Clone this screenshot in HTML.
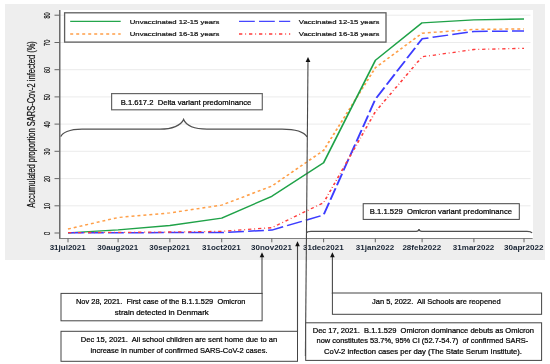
<!DOCTYPE html>
<html><head><meta charset="utf-8"><title>Figure</title>
<style>
html,body{margin:0;padding:0;background:#fff;}
body{width:550px;height:364px;overflow:hidden;}
svg{display:block;font-family:"Liberation Sans",Arial,sans-serif;}
svg text{white-space:pre;}
.ann text{font-size:7.6px;fill:#000;stroke:#000;stroke-width:0.22;}
.ann rect{fill:#fff;stroke:#444;stroke-width:1;}
.ln{fill:none;stroke:#505050;stroke-width:1.3;}
.ar{fill:none;stroke:#484848;stroke-width:1.1;}
</style></head><body>
<svg width="550" height="364" viewBox="0 0 550 364">
<rect x="0" y="0" width="550" height="364" fill="#fff"/>
<rect x="5" y="4" width="540" height="256" fill="#eeeeee"/>
<rect x="60" y="10" width="473" height="228.4" fill="#fff"/>
<g stroke="#ebebeb" stroke-width="1"><line x1="60" x2="530.5" y1="205.8" y2="205.8"/><line x1="60" x2="530.5" y1="178.6" y2="178.6"/><line x1="60" x2="530.5" y1="151.3" y2="151.3"/><line x1="60" x2="530.5" y1="124.1" y2="124.1"/><line x1="60" x2="530.5" y1="96.9" y2="96.9"/><line x1="60" x2="530.5" y1="69.7" y2="69.7"/><line x1="60" x2="530.5" y1="42.5" y2="42.5"/><line x1="60" x2="530.5" y1="15.2" y2="15.2"/></g>
<g stroke="#555" stroke-width="1.3">
<line x1="59.8" x2="59.8" y1="10" y2="239"/>
<line x1="59.2" x2="532.6" y1="238.5" y2="238.5" stroke="#808080" stroke-width="1.1"/>
</g>
<g stroke="#666" stroke-width="1"><line x1="54.5" x2="60" y1="233.0" y2="233.0"/><line x1="54.5" x2="60" y1="205.8" y2="205.8"/><line x1="54.5" x2="60" y1="178.6" y2="178.6"/><line x1="54.5" x2="60" y1="151.3" y2="151.3"/><line x1="54.5" x2="60" y1="124.1" y2="124.1"/><line x1="54.5" x2="60" y1="96.9" y2="96.9"/><line x1="54.5" x2="60" y1="69.7" y2="69.7"/><line x1="54.5" x2="60" y1="42.5" y2="42.5"/><line x1="54.5" x2="60" y1="15.2" y2="15.2"/><line x1="68" x2="68" y1="238.4" y2="242.3"/><line x1="118.1" x2="118.1" y1="238.4" y2="242.3"/><line x1="169.9" x2="169.9" y1="238.4" y2="242.3"/><line x1="221.7" x2="221.7" y1="238.4" y2="242.3"/><line x1="271.8" x2="271.8" y1="238.4" y2="242.3"/><line x1="323.6" x2="323.6" y1="238.4" y2="242.3"/><line x1="375.3" x2="375.3" y1="238.4" y2="242.3"/><line x1="422.1" x2="422.1" y1="238.4" y2="242.3"/><line x1="473.9" x2="473.9" y1="238.4" y2="242.3"/><line x1="524" x2="524" y1="238.4" y2="242.3"/></g>
<g font-size="6px" fill="#111" stroke="#111" stroke-width="0.15"><text transform="translate(50,233.3) rotate(-90) scale(1,1.45)" text-anchor="middle" textLength="3.2" lengthAdjust="spacingAndGlyphs">0</text><text transform="translate(50,206.1) rotate(-90) scale(1,1.45)" text-anchor="middle" textLength="6.2" lengthAdjust="spacingAndGlyphs">10</text><text transform="translate(50,178.9) rotate(-90) scale(1,1.45)" text-anchor="middle" textLength="6.2" lengthAdjust="spacingAndGlyphs">20</text><text transform="translate(50,151.6) rotate(-90) scale(1,1.45)" text-anchor="middle" textLength="6.2" lengthAdjust="spacingAndGlyphs">30</text><text transform="translate(50,124.4) rotate(-90) scale(1,1.45)" text-anchor="middle" textLength="6.2" lengthAdjust="spacingAndGlyphs">40</text><text transform="translate(50,97.2) rotate(-90) scale(1,1.45)" text-anchor="middle" textLength="6.2" lengthAdjust="spacingAndGlyphs">50</text><text transform="translate(50,70.0) rotate(-90) scale(1,1.45)" text-anchor="middle" textLength="6.2" lengthAdjust="spacingAndGlyphs">60</text><text transform="translate(50,42.8) rotate(-90) scale(1,1.45)" text-anchor="middle" textLength="6.2" lengthAdjust="spacingAndGlyphs">70</text><text transform="translate(50,15.5) rotate(-90) scale(1,1.45)" text-anchor="middle" textLength="6.2" lengthAdjust="spacingAndGlyphs">80</text></g>
<g font-size="6.9px" font-weight="bold" fill="#182434"><text x="67.7" y="249.8" text-anchor="middle" textLength="36.1" lengthAdjust="spacingAndGlyphs">31jul2021</text><text x="117.8" y="249.8" text-anchor="middle" textLength="41.0" lengthAdjust="spacingAndGlyphs">30aug2021</text><text x="169.6" y="249.8" text-anchor="middle" textLength="40.6" lengthAdjust="spacingAndGlyphs">30sep2021</text><text x="221.39999999999998" y="249.8" text-anchor="middle" textLength="38.8" lengthAdjust="spacingAndGlyphs">31oct2021</text><text x="271.5" y="249.8" text-anchor="middle" textLength="41.0" lengthAdjust="spacingAndGlyphs">30nov2021</text><text x="323.3" y="249.8" text-anchor="middle" textLength="40.6" lengthAdjust="spacingAndGlyphs">31dec2021</text><text x="375.0" y="249.8" text-anchor="middle" textLength="38.3" lengthAdjust="spacingAndGlyphs">31jan2022</text><text x="421.8" y="249.8" text-anchor="middle" textLength="38.8" lengthAdjust="spacingAndGlyphs">28feb2022</text><text x="473.59999999999997" y="249.8" text-anchor="middle" textLength="41.5" lengthAdjust="spacingAndGlyphs">31mar2022</text><text x="523.7" y="249.8" text-anchor="middle" textLength="39.6" lengthAdjust="spacingAndGlyphs">30apr2022</text></g>
<text transform="translate(34.9,124.4) rotate(-90) scale(1,1.45)" text-anchor="middle" font-size="7.5px" fill="#111" stroke="#111" stroke-width="0.15" textLength="166.5" lengthAdjust="spacingAndGlyphs">Accumulated proportion SARS-Cov-2 infected (%)</text>

<g fill="none" stroke-linejoin="round" transform="scale(1.3,1)">
<polyline points="52.31,229 90.85,217.5 130.69,212.9 170.54,205.1 209.08,186.1 248.92,150.4 288.69,67.8 324.69,33.2 364.54,29.4 403.08,28.9" stroke="#ff9f48" stroke-width="1.45" stroke-dasharray="2.3 2.3"/>
<polyline points="52.31,232.8 90.85,229.8 130.69,225.5 170.54,218.2 209.08,196.3 248.92,162.8 288.69,60.4 324.69,22.8 364.54,19.8 403.08,19.0" stroke="#1fa248" stroke-width="1.35"/>
<polyline points="52.31,232.8 90.85,232.7 130.69,232.6 170.54,232.5 209.08,230.1 248.92,215.0 288.69,99.4 324.69,38.8 364.54,31.5 403.08,31.0" stroke="#3c3cff" stroke-width="1.5" stroke-dasharray="12.15 3.25"/>
<polyline points="52.31,232.6 90.85,232.4 130.69,232.0 170.54,231.4 209.08,227.7 248.92,202.7 288.69,111.8 324.69,56.8 364.54,49.5 403.08,48.3" stroke="#ff3b3b" stroke-width="1.3" stroke-dasharray="2.55 2.2 0.7 2.25"/>
</g>

<rect x="64.6" y="12.8" width="321.4" height="29.3" fill="#fff" stroke="#5e5e5e" stroke-width="1.3"/>
<line x1="70.2" x2="120.7" y1="21.3" y2="21.3" stroke="#24a64c" stroke-width="1.3"/>
<line x1="70.2" x2="120.7" y1="34" y2="34" stroke="#ff9f48" stroke-width="1.5" stroke-dasharray="3 3"/>
<line x1="239" x2="290.2" y1="21.3" y2="21.3" stroke="#4646ff" stroke-width="1.3" stroke-dasharray="15.8 4.2"/>
<line x1="239" x2="290.2" y1="34" y2="34" stroke="#ff3b3b" stroke-width="1.3" stroke-dasharray="3.3 2.9 0.9 2.9"/>
<g font-size="6px" fill="#111" stroke="#111" stroke-width="0.2">
<text x="129.8" y="24.1" textLength="89.6" lengthAdjust="spacingAndGlyphs" xml:space="preserve">Unvaccinated 12-15 years</text>
<text x="129.8" y="36" textLength="89.6" lengthAdjust="spacingAndGlyphs" xml:space="preserve">Unvaccinated 16-18 years</text>
<text x="298.8" y="24.1" textLength="80.6" lengthAdjust="spacingAndGlyphs" xml:space="preserve">Vaccinated 12-15 years</text>
<text x="298.8" y="36" textLength="80.6" lengthAdjust="spacingAndGlyphs" xml:space="preserve">Vaccinated 16-18 years</text>
</g>

<!-- braces -->
<path class="ln" d="M60.8,136.6 C62,133 69,129.1 82,129.1 L160,129.1 C172,129.1 181,125.5 183.6,119.5 C186.2,125.5 195,129.1 207,129.1 L282,129.1 C295,129.1 303.5,131 307.1,136.8"/>
<path class="ln" d="M306.6,232.8 C307,231.6 308.5,231.3 311,231.3 L416.3,231.3 C418,231.3 418.8,230.8 419,229.2 C419.2,230.8 420,231.3 421.7,231.3 L527,231.3 C529.5,231.3 531.3,231.8 532,233"/>

<!-- long vertical arrow -->
<line class="ar" x1="308" y1="60" x2="305.4" y2="356"/>
<polygon points="308,57 305.6,62 310.4,62" fill="#111"/>
<!-- short arrows -->
<line class="ar" x1="262" y1="256" x2="262" y2="294"/>
<polygon points="262,252.3 259.7,257.3 264.3,257.3" fill="#111"/>
<line class="ar" x1="297.5" y1="245" x2="297.5" y2="332"/>
<polygon points="297.5,241.2 295.2,246.2 299.8,246.2" fill="#111"/>
<line class="ar" x1="332.4" y1="256" x2="332.4" y2="294"/>
<polygon points="332.4,252.2 330.1,257.2 334.7,257.2" fill="#111"/>

<g class="ann">
<rect x="111.6" y="93.6" width="150.7" height="16.2" style="stroke:#666;stroke-width:1.2"/>
<text x="120.7" y="104.5" textLength="130.6" lengthAdjust="spacingAndGlyphs" xml:space="preserve">B.1.617.2  Delta variant predominance</text>
<rect x="363.2" y="203.7" width="156.1" height="15.7"/>
<text x="369.8" y="214.0" textLength="142.2" lengthAdjust="spacingAndGlyphs" xml:space="preserve">B.1.1.529  Omicron variant predominance</text>
<rect x="61" y="293.4" width="201.1" height="27.4"/>
<text x="76.0" y="303.7" textLength="169.5" lengthAdjust="spacingAndGlyphs" xml:space="preserve">Nov 28, 2021.  First case of the B.1.1.529  Omicron</text>
<text x="114.8" y="314.9" textLength="93.9" lengthAdjust="spacingAndGlyphs" xml:space="preserve">strain detected in Denmark</text>
<rect x="61" y="331.3" width="236.5" height="30"/>
<text x="80.7" y="342.3" textLength="196.6" lengthAdjust="spacingAndGlyphs" xml:space="preserve">Dec 15, 2021.  All school children are sent home due to an</text>
<text x="90.6" y="353.1" textLength="176.9" lengthAdjust="spacingAndGlyphs" xml:space="preserve">increase in number of confirmed SARS-CoV-2 cases.</text>
<rect x="332.4" y="293" width="209.2" height="21.3"/>
<text x="372.0" y="303.8" textLength="128.6" lengthAdjust="spacingAndGlyphs" xml:space="preserve">Jan 5, 2022.  All Schools are reopened</text>
<rect x="305.7" y="322.8" width="235.9" height="37.6"/>
<text x="312.7" y="332.7" textLength="221.2" lengthAdjust="spacingAndGlyphs" xml:space="preserve">Dec 17, 2021.  B.1.1.529  Omicron dominance debuts as Omicron</text>
<text x="316.5" y="343.3" textLength="211.8" lengthAdjust="spacingAndGlyphs" xml:space="preserve">now constitutes 53.7%, 95% CI (52.7-54.7)  of confirmed SARS-</text>
<text x="324.1" y="354.2" textLength="197.9" lengthAdjust="spacingAndGlyphs" xml:space="preserve">CoV-2 infection cases per day (The State Serum Institute).</text>
</g>
</svg>
</body></html>
